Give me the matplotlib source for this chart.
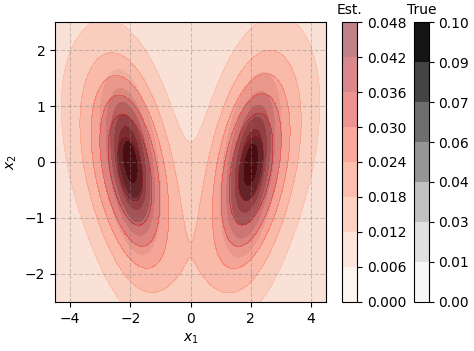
import numpy as np
import matplotlib
matplotlib.use("Agg")
import matplotlib.pyplot as plt

# plotting window
x_lim = (-4.5, 4.5)
y_lim = (-2.5, 2.5)

# true density: two tilted bumps (center x, center y, sx, sy, rho, peak)
true_cx = [-2.0, 2.0]
true_cy = [0.0, -0.05]
true_sx = [0.52, 0.52]
true_sy = [0.85, 0.85]
true_rho = [-0.4, 0.4]
true_peak = [0.094, 0.094]
true_levels = [0.0, 0.0143, 0.0286, 0.0429, 0.0571, 0.0714, 0.0857, 0.10]

# estimated density: floor + core bumps + broad wings + bottom bridge
est_floor = 0.0072
est_cx = [-1.95, 1.95, -2.3, 2.3, 0.0]
est_cy = [-0.15, -0.15, 0.0, 0.05, -2.0]
est_sx = [0.85, 0.85, 1.35, 1.35, 1.5]
est_sy = [1.25, 1.25, 1.45, 1.5, 0.55]
est_rho = [-0.35, 0.35, -0.45, 0.45, 0.0]
est_peak = [0.026, 0.026, 0.0125, 0.0125, 0.0025]
est_levels = [0.000, 0.006, 0.012, 0.018, 0.024, 0.030, 0.036, 0.042, 0.048]


def bump(X, Y, cx, cy, sx, sy, rho, peak):
    u = (X - cx) / sx
    v = (Y - cy) / sy
    r2 = (u * u - 2 * rho * u * v + v * v) / (1 - rho * rho)
    return peak * np.exp(-0.5 * r2)


def main():
    xs = np.linspace(x_lim[0], x_lim[1], 400)
    ys = np.linspace(y_lim[0], y_lim[1], 300)
    X, Y = np.meshgrid(xs, ys)

    Z_true = np.zeros_like(X)
    for p in zip(true_cx, true_cy, true_sx, true_sy, true_rho, true_peak):
        Z_true += bump(X, Y, *p)

    Z_est = np.full_like(X, est_floor)
    for p in zip(est_cx, est_cy, est_sx, est_sy, est_rho, est_peak):
        Z_est += bump(X, Y, *p)
    Z_est = np.clip(Z_est, 0, 0.0479)

    fig = plt.figure(figsize=(4.74, 3.51), dpi=100)
    ax = fig.add_axes([0.116, 0.14, 0.572, 0.797])
    cax_est = fig.add_axes([0.7215, 0.14, 0.0316, 0.797])
    cax_true = fig.add_axes([0.873, 0.14, 0.0316, 0.797])

    cf_true = ax.contourf(X, Y, Z_true, levels=true_levels, cmap="Greys")
    cf_est = ax.contourf(X, Y, Z_est, levels=est_levels, cmap="Reds", alpha=0.5)

    ax.set_xlim(*x_lim)
    ax.set_ylim(*y_lim)
    ax.set_xticks([-4, -2, 0, 2, 4])
    ax.set_yticks([-2, -1, 0, 1, 2])
    ax.set_xlabel("$x_1$")
    ax.set_ylabel("$x_2$")
    ax.grid(True, linestyle="--", color="gray", alpha=0.4, linewidth=0.8)

    fig.colorbar(cf_est, cax=cax_est, format="%.3f")
    cax_est.set_title("Est.", fontsize=10)
    fig.colorbar(cf_true, cax=cax_true, format="%.2f")
    cax_true.set_title("True", fontsize=10)

    fig.savefig("out.png", dpi=100)
    plt.close(fig)


if __name__ == "__main__":
    main()
